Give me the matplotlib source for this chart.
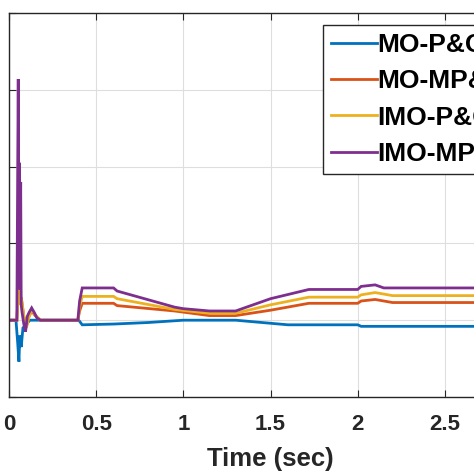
import matplotlib
matplotlib.use("Agg")
import matplotlib.pyplot as plt

# ---- data ----
labels = ["MO-P&O", "MO-MP&O", "IMO-P&O", "IMO-MP&O"]
colors = ["#0072BD", "#D95319", "#EDB120", "#7E2F8E"]

t_blue = [0, 0.04, 0.05, 0.057, 0.062, 0.07, 0.08, 0.1, 0.12, 0.4, 0.42, 0.6, 0.8, 1.0, 1.3, 1.6, 2.0, 2.02, 3.0]
v_blue = [0, 0, -0.3, -0.54, -0.2, -0.35, -0.1, -0.05, 0, 0, -0.06, -0.05, -0.03, 0, 0, -0.06, -0.06, -0.08, -0.08]

t_orange = [0, 0.045, 0.052, 0.058, 0.064, 0.07, 0.085, 0.1, 0.115, 0.13, 0.15, 0.18, 0.395, 0.405, 0.42,
            0.6, 0.62, 0.95, 1.15, 1.3, 1.5, 1.72, 2.0, 2.02, 2.1, 2.2, 3.0]
v_orange = [0, 0, 0.3, 0.70, 0.2, 0.3, 0.05, -0.08, 0.05, 0.12, 0.06, 0, 0, 0.12, 0.22,
            0.22, 0.19, 0.12, 0.06, 0.06, 0.13, 0.22, 0.22, 0.25, 0.27, 0.23, 0.23]

t_yellow = [0, 0.045, 0.052, 0.058, 0.064, 0.07, 0.085, 0.1, 0.115, 0.13, 0.15, 0.18, 0.395, 0.405, 0.42,
            0.6, 0.62, 0.95, 1.15, 1.3, 1.5, 1.72, 2.0, 2.02, 2.1, 2.2, 3.0]
v_yellow = [0, 0, 0.3, 0.55, 0.2, 0.3, 0.05, -0.1, 0.05, 0.14, 0.07, 0, 0, 0.18, 0.31,
            0.31, 0.28, 0.14, 0.09, 0.09, 0.20, 0.30, 0.30, 0.33, 0.36, 0.32, 0.32]

t_purple = [0, 0.045, 0.05, 0.053, 0.056, 0.06, 0.063, 0.067, 0.07, 0.075, 0.085, 0.095, 0.105, 0.115,
            0.13, 0.145, 0.16, 0.18, 0.395, 0.405, 0.42, 0.6, 0.62, 0.95, 1.0, 1.15, 1.3, 1.5, 1.72,
            2.0, 2.02, 2.1, 2.15, 3.0]
v_purple = [0, 0, 2.0, 3.14, 1.2, 2.05, 0.4, 1.8, 0.2, 0.1, -0.05, -0.15, 0.05, 0.1,
            0.16, 0.1, 0.03, 0, 0, 0.25, 0.42, 0.42, 0.38, 0.17, 0.15, 0.12, 0.12, 0.28, 0.40,
            0.40, 0.44, 0.46, 0.42, 0.42]

x_ticks = [0, 0.5, 1, 1.5, 2, 2.5, 3]
x_tick_labels = ["0", "0.5", "1", "1.5", "2", "2.5", "3"]
y_ticks = [-1, 0, 1, 2, 3, 4]

series = [(t_blue, v_blue), (t_orange, v_orange), (t_yellow, v_yellow), (t_purple, v_purple)]

plt.rcParams['font.family'] = ['Liberation Sans', 'DejaVu Sans']

W = H = 474
fig = plt.figure(figsize=(4.74, 4.74), dpi=100)
left_px, right_px, top_px, bot_px = 9, 532, 13, 397
ax = fig.add_axes([left_px / W, 1 - bot_px / H, (right_px - left_px) / W, (bot_px - top_px) / H])

for (t, v), c, lab in zip(series, colors, labels):
    ax.plot(t, v, color=c, lw=2.0, label=lab, solid_joinstyle='miter')

ax.set_xlim(0, 3)
ax.set_ylim(-1, 4)
ax.set_xticks(x_ticks)
ax.set_xticklabels(x_tick_labels, fontsize=16, fontweight='bold', color='#262626')
ax.set_yticks(y_ticks)
ax.set_yticklabels([])
ax.grid(True, color='#dedede', lw=0.8)
ax.set_axisbelow(True)
ax.tick_params(direction='in', length=5, width=0.8, color='#262626', top=True, right=True, pad=12)
for s in ax.spines.values():
    s.set_color('#262626')
    s.set_linewidth(1.0)

ax.set_xlabel("Time (sec)", fontsize=18.5, fontweight='bold', labelpad=9, color='#262626')

leg = ax.legend(loc='upper left', bbox_to_anchor=(323 / W, 1 - 25 / H), bbox_transform=fig.transFigure,
                borderaxespad=0, prop={'size': 19, 'weight': 'bold'}, handlelength=1.75,
                handletextpad=0.0, borderpad=0.3, labelspacing=0.47, fancybox=False,
                framealpha=1, edgecolor='#262626')
leg.get_frame().set_linewidth(1.0)

fig.savefig("out.png", dpi=100)
